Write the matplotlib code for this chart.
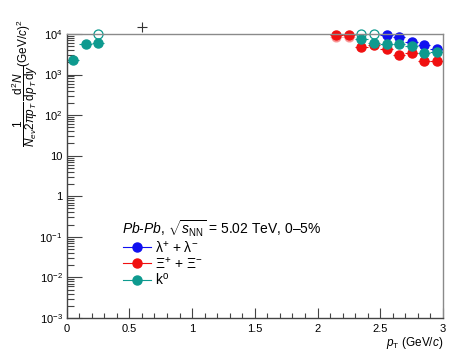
import numpy as np
import matplotlib.pyplot as plt
from matplotlib.ticker import FixedLocator, NullFormatter, LogLocator

# Data
pt_k_low      = [0.05, 0.15, 0.25]
y_k_low       = [2240, 5600, 5900]
pt_k_open     = [0.25, 2.35, 2.45]
y_k_open      = [10200, 10050, 10050]
pt_plus       = [0.6]
y_plus        = [14900]

pt_lam        = [2.55, 2.65, 2.75, 2.85, 2.95]
y_lam         = [9500, 8330, 6530, 5210, 4380]

pt_xi         = [2.15, 2.25, 2.35, 2.45, 2.55, 2.65, 2.75, 2.85, 2.95]
y_xi          = [9500, 9500, 4800, 5300, 4230, 3120, 3310, 2220, 2100]
pt_xi_faint   = [2.15, 2.25]
y_xi_faint    = [8600, 8600]

pt_k_high     = [2.35, 2.45, 2.55, 2.65, 2.75, 2.85, 2.95]
y_k_high      = [7450, 5900, 5700, 5700, 5010, 3310, 3500]

c_blue = '#1010f0'
c_red  = '#f01010'
c_teal = '#0e9a8f'

plt.rcParams['font.family'] = ['Liberation Sans', 'DejaVu Sans']
plt.rcParams['mathtext.fontset'] = 'custom'
plt.rcParams['mathtext.rm'] = 'Liberation Sans'
plt.rcParams['mathtext.it'] = 'Liberation Sans:italic'

fig = plt.figure(figsize=(4.74, 3.53), dpi=100)
ax = fig.add_axes([0.1407, 0.0992, 0.7939, 0.8045])

ms = 6.5
eb = dict(xerr=0.05, fmt='o', ms=ms, elinewidth=0.8, capsize=0, clip_on=False)

ax.errorbar(pt_k_open, y_k_open, mfc='white', mec=c_teal, ecolor=c_teal, mew=0.9, **eb)
ax.errorbar(pt_xi_faint, y_xi_faint, color=c_red, alpha=0.3, **eb)
ax.errorbar(pt_xi, y_xi, color=c_red, **eb)
ax.errorbar(pt_lam, y_lam, color=c_blue, **eb)
ax.errorbar(pt_k_high, y_k_high, color=c_teal, **eb)
ax.errorbar(pt_k_low, y_k_low, color=c_teal, **eb)
ax.plot(pt_plus, y_plus, '+', color='#333333', ms=7, mew=0.8, clip_on=False)

ax.set_yscale('log')
ax.set_xlim(0, 3)
ax.set_ylim(1e-3, 1e4)

ax.xaxis.set_major_locator(FixedLocator([0, 0.5, 1, 1.5, 2, 2.5, 3]))
ax.set_xticklabels(['0', '0.5', '1', '1.5', '2', '2.5', '3'])
ax.xaxis.set_minor_locator(FixedLocator(np.arange(0, 3.01, 0.1)))
ax.yaxis.set_major_locator(FixedLocator([1e-3, 1e-2, 1e-1, 1, 10, 1e2, 1e3, 1e4]))
ax.set_yticklabels([r'$10^{-3}$', r'$10^{-2}$', r'$10^{-1}$', '1', '10',
                    r'$10^{2}$', r'$10^{3}$', r'$10^{4}$'])
ax.yaxis.set_minor_locator(LogLocator(base=10, subs=np.arange(2, 10)))
ax.yaxis.set_minor_formatter(NullFormatter())

ax.tick_params(axis='both', which='both', direction='in', top=False, right=False,
               labelsize=8, color='#444444', width=0.8)
ax.tick_params(axis='y', which='major', length=11, pad=3)
ax.tick_params(axis='y', which='minor', length=5)
ax.tick_params(axis='x', which='major', length=7, pad=4)
ax.tick_params(axis='x', which='minor', length=3.5)

for s in ['left', 'bottom']:
    ax.spines[s].set_color('#444444')
    ax.spines[s].set_linewidth(1.0)
for s in ['top', 'right']:
    ax.spines[s].set_color('#8a8a8a')
    ax.spines[s].set_linewidth(1.0)

# y title placed in figure coords
fig.text(0.052, 0.765,
         r'$\dfrac{1}{N_{ev}2\pi p_{T}}\,\dfrac{\mathrm{d}^{2}N}{\mathrm{d}p_{T}\,\mathrm{d}y}$(GeV/$c$)$^{2}$',
         fontsize=8.5, rotation=90, ha='center', va='center')
ax.set_xlabel(r'$p_{\mathrm{T}}$ (GeV/$c$)', fontsize=8.5, ha='right')
ax.xaxis.set_label_coords(1.0, -0.06)

# legend drawn by hand in ROOT style
fig.text(0.257, 0.352, r'$Pb$-$Pb$, $\sqrt{s_{\mathrm{NN}}}$ = 5.02 TeV, 0–5%',
         fontsize=10, va='center')
entries = [(c_blue, r'λ$^{+}$ + λ$^{-}$'),
           (c_red, r'Ξ$^{+}$ + Ξ$^{-}$'),
           (c_teal, r'k$^{\mathrm{o}}$')]
for i, (c, lab) in enumerate(entries):
    yy = 0.300 - i * 0.046
    fig.add_artist(plt.Line2D([0.26, 0.318], [yy, yy], color=c, lw=0.8))
    fig.add_artist(plt.Line2D([0.289], [yy], marker='o', ms=ms, color=c))
    fig.text(0.328, yy, lab, fontsize=10, va='center')

fig.savefig('out.png', dpi=100)
